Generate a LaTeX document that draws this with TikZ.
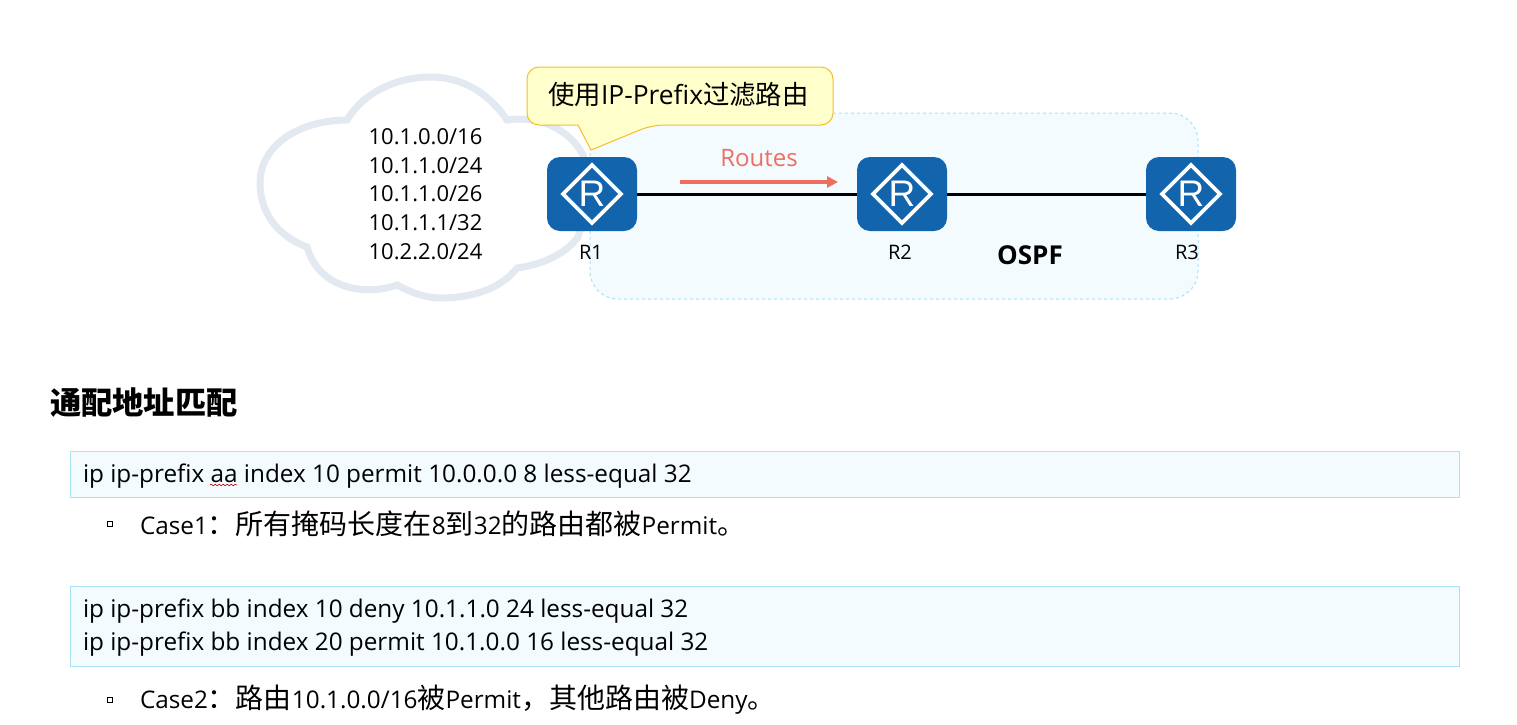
\documentclass[tikz,border=0pt]{standalone}
\usepackage{fontspec}
\usepackage{tikz}
\usetikzlibrary{arrows.meta}
\usetikzlibrary{decorations.pathmorphing}
\setmainfont{Open Sans}
\newfontfamily\cjk{Noto Sans CJK SC}
\newfontfamily\iconfont{Liberation Sans}
\newcommand{\han}[1]{{\cjk\fontsize{28}{28}\selectfont #1}}
\definecolor{routerblue}{HTML}{1264AC}
\definecolor{cloudgrey}{HTML}{E2E9F1}
\definecolor{panelfill}{HTML}{F3FBFF}
\definecolor{panelline}{HTML}{A9E2F6}
\definecolor{routesred}{HTML}{EE6F60}
\definecolor{noteline}{HTML}{F5BE2A}
\definecolor{notefill}{HTML}{FFFFCC}

\begin{document}
\begin{tikzpicture}[
    x=1pt, y=-1pt,
    every node/.style={inner sep=0pt, outer sep=0pt},
    router/.style={fill=routerblue, rounded corners=13pt, minimum width=90pt, minimum height=74pt,
        text=white, font=\iconfont\fontsize{37}{37}\selectfont,
        path picture={\draw[white, line width=3.6pt, sharp corners]
            ([xshift=-29pt]path picture bounding box.center) -- ([yshift=29pt]path picture bounding box.center)
            -- ([xshift=29pt]path picture bounding box.center) -- ([yshift=-29pt]path picture bounding box.center) -- cycle;}},
    routerlabel/.style={font=\fontsize{20}{20}\selectfont},
    link/.style={draw=black, line width=3pt},
    listbox/.style={draw=panelline, fill=panelfill, line width=1pt},
    cmdtext/.style={anchor=west, font=\fontsize{24.3}{24.3}\selectfont},
    casetext/.style={anchor=west, font=\fontsize{24.3}{24.3}\selectfont},
    bulletbox/.style={draw=black, line width=0.8pt, minimum size=5pt}
]

    \useasboundingbox (0,0) rectangle (1517,724);

    % Cloud
    \draw[cloudgrey, line width=7pt, fill=white] (347,120)
        .. controls (365,90) and (400,77) .. (430,77)
        .. controls (465,77) and (490,95) .. (507,120)
        .. controls (540,115) and (570,130) .. (583,155)
        .. controls (590,180) and (585,215) .. (578,237)
        .. controls (565,255) and (540,265) .. (517,268)
        .. controls (500,290) and (470,298) .. (440,298)
        .. controls (425,298) and (410,292) .. (397,285)
        .. controls (370,295) and (320,292) .. (307,247)
        .. controls (275,235) and (260,210) .. (260,183)
        .. controls (260,145) and (300,120) .. (347,120) -- cycle;

    % OSPF area
    \draw[panelline, fill=panelfill, dashed, line width=1pt, rounded corners=28pt]
        (590,113) rectangle (1198,299);

    % Callout
    \draw[noteline, fill=notefill, line width=1pt]
        (527,96) [rounded corners=12pt] -- (527,67) -- (833,67) -- (833,125)
        -- (652,125) [sharp corners] -- (591,150) -- (578,125)
        [rounded corners=12pt] -- (527,125) -- cycle;
    \node (note) at (678.5,95) {\fontsize{26.4}{26.4}\selectfont\cjk 使用\rmfamily IP-Prefix\cjk 过滤路由};

    % Routes inside the cloud
    \node[align=left, font=\fontsize{22}{28.6}\selectfont] (routes) at (425.5,194)
        {10.1.0.0/16\\10.1.1.0/24\\10.1.1.0/26\\10.1.1.1/32\\10.2.2.0/24};

    % Routers
    \node[router] (r1) at (592,194) {R};
    \node[router] (r2) at (902,194) {R};
    \node[router] (r3) at (1191,194) {R};
    \node[routerlabel] (r1label) at (591,252) {R1};
    \node[routerlabel] (r2label) at (900,252) {R2};
    \node[routerlabel] (r3label) at (1187,252) {R3};

    \draw[link] (r1) -- (r2);
    \draw[link] (r2) -- (r3);

    % Route direction
    \coordinate (flowstart) at (680,182);
    \coordinate (flowend) at (838,182);
    \draw[routesred, line width=3.6pt, -{Triangle[length=11pt, width=11pt]}] (flowstart) -- (flowend);
    \node[text=routesred, font=\fontsize{24}{24}\selectfont] (flow) at (759,158) {Routes};
    \node[font=\bfseries\fontsize{26}{26}\selectfont] (ospf) at (1030,255) {OSPF};

    % Heading
    \node[anchor=west, font=\cjk\bfseries\fontsize{31.3}{31.3}\selectfont] (heading) at (50,403) {通配地址匹配};

    % Case 1
    \node[listbox, anchor=north west, minimum width=1389pt, minimum height=46pt] (box1) at (70,451) {};
    \node[cmdtext] (cmd1) at (83,476.5) {ip ip-prefix aa index 10 permit 10.0.0.0 8 less-equal 32};
    \coordinate (aastart) at (210,485);
    \coordinate (aaend) at (237,485);
    \draw[red!80!black, line width=0.6pt, decorate, decoration={snake, amplitude=0.8pt, segment length=4pt}] (aastart) -- (aaend);
    \node[bulletbox] (bullet1) at (110,524) {};
    \node[casetext] (case1) at (140,524) {Case1\han{：所有掩码长度在}8\han{到}32\han{的路由都被}Permit\han{。}};

    % Case 2
    \node[listbox, anchor=north west, minimum width=1389pt, minimum height=80pt] (box2) at (70,586) {};
    \node[cmdtext] (cmd2) at (83,611.5) {ip ip-prefix bb index 10 deny 10.1.1.0 24 less-equal 32};
    \node[cmdtext] (cmd3) at (83,644.5) {ip ip-prefix bb index 20 permit 10.1.0.0 16 less-equal 32};
    \node[bulletbox] (bullet2) at (110,700) {};
    \node[casetext] (case2) at (140,700) {Case2\han{：路由}10.1.0.0/16\han{被}Permit\han{，其他路由被}Deny\han{。}};

\end{tikzpicture}
\end{document}
